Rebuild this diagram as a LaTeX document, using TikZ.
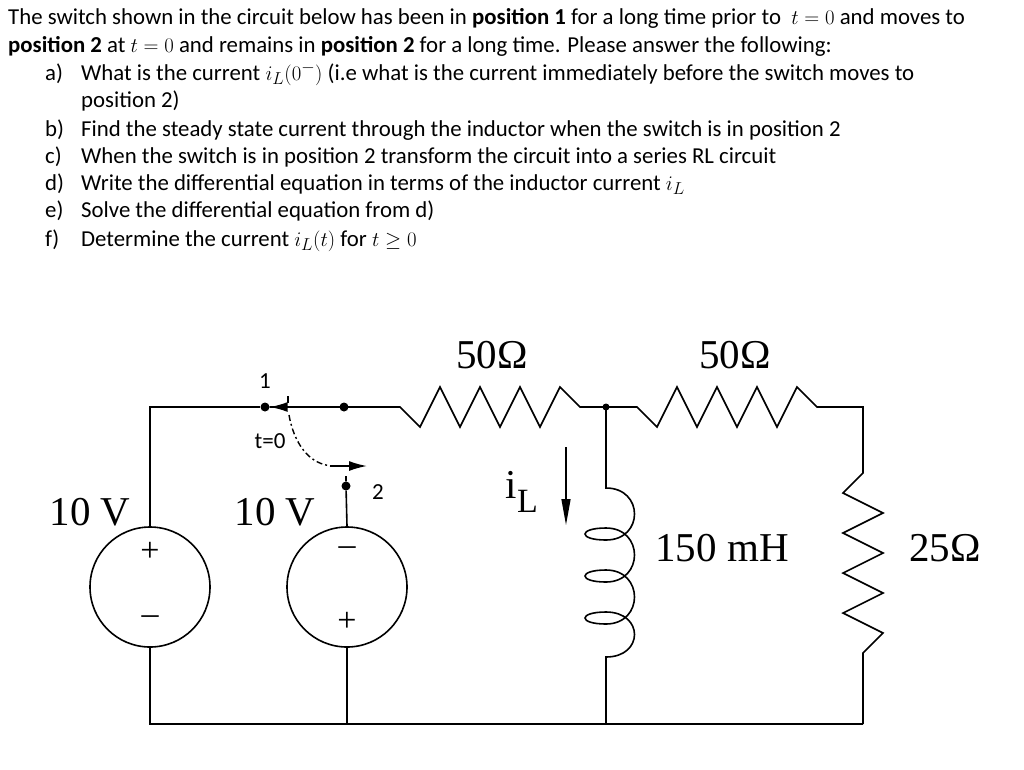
\documentclass[tikz,border=0pt]{standalone}
\usepackage{fontspec}
\setmainfont{Carlito}
\newfontfamily\tms{Liberation Serif}
\usetikzlibrary{arrows.meta}
\begin{document}
\begin{tikzpicture}[x=1pt,y=-1pt,
  wire/.style={line width=1.6pt,line join=miter},
  qtext/.style={anchor=base west,inner sep=0pt,font=\fontsize{22.8}{24}\selectfont},
  big/.style={inner sep=0pt,font=\tms\fontsize{41}{44}\selectfont},
  small/.style={inner sep=0pt,font=\fontsize{23}{24}\selectfont},
  dotn/.style={circle,fill,inner sep=0pt,minimum size=9pt}]
\useasboundingbox (0,0) rectangle (1024,769);
% text
\node[qtext] (l1) at (8,24) {The switch shown in the circuit below has been in \textbf{position 1} for a long time prior to \ $t=0$ and moves to};
\node[qtext] (l2) at (8,52) {\textbf{position 2} at $t=0$ and remains in \textbf{position 2} for a long time. Please answer the following:};
\node[qtext] (a1) at (45,80) {a)};
\node[qtext] (a2) at (81,80) {What is the current $i_L(0^-)$ (i.e what is the current immediately before the switch moves to};
\node[qtext] (a3) at (81,107) {position 2)};
\node[qtext] (b1) at (45,136) {b)};
\node[qtext] (b2) at (81,136) {Find the steady state current through the inductor when the switch is in position 2};
\node[qtext] (c1) at (45,163) {c)};
\node[qtext] (c2) at (81,163) {When the switch is in position 2 transform the circuit into a series RL circuit};
\node[qtext] (d1) at (45,190) {d)};
\node[qtext] (d2) at (81,190) {Write the differential equation in terms of the inductor current $i_L$};
\node[qtext] (e1) at (45,217) {e)};
\node[qtext] (e2) at (81,217) {Solve the differential equation from d)};
\node[qtext] (f1) at (45,246) {f)};
\node[qtext] (f2) at (81,246) {Determine the current $i_L(t)$ for $t\geq 0$};
% coordinates
\coordinate (TL) at (150,407);
\coordinate (BL) at (150,724);
\coordinate (BR) at (863,724);
\node[dotn] (s1) at (265,407) {};
\node[dotn] (s3) at (344,407) {};
\node[dotn] (s2) at (346,486) {};
\coordinate (J) at (606,407);
\node[circle,fill,inner sep=0pt,minimum size=7pt] (Jd) at (J) {};
\node[circle,draw,line width=1.6pt,minimum size=120pt,inner sep=0pt] (V1) at (150,587) {};
\node[circle,draw,line width=1.6pt,minimum size=120pt,inner sep=0pt] (V2) at (347,587) {};
% wires
\draw[wire] (V1.north) -- (TL) -- (s1);
\draw[wire] (s1) -- (400,407) -- (420,427) -- (440,387) -- (460,427) -- (480,387) -- (500,427) -- (520,387) -- (540,427) -- (560,387) -- (580,407) -- (J);
\draw[wire] (J) -- (637,407) -- (657,427) -- (677,387) -- (697,427) -- (717,387) -- (737,427) -- (757,387) -- (777,427) -- (797,387) -- (817,407) -- (863,407) -- (863,473)
  -- (843,493) -- (883,513) -- (843,533) -- (883,553) -- (843,573) -- (883,593) -- (843,613) -- (883,633) -- (863,653) -- (BR);
\draw[wire] (V1.south) -- (BL) -- (BR);
\draw[wire] (V2.south) -- (347,724);
\draw[wire] (V2.north) -- (s2) -- (346,476);
% inductor
\draw[wire] (J) -- (606,488)
  .. controls (644,488) and (644,540) .. (606,540)
  .. controls (578,540) and (578,528) .. (606,528)
  .. controls (644,528) and (644,582) .. (606,582)
  .. controls (578,582) and (578,570) .. (606,570)
  .. controls (644,570) and (644,624) .. (606,624)
  .. controls (578,624) and (578,612) .. (606,612)
  .. controls (644,612) and (644,657) .. (606,657)
  -- (606,724);
% switch
\draw[wire,-{Latex[length=18pt,width=10pt]}] (300,407) -- (s1.east);
\draw[line width=1.4pt] (288,396) -- (288,403);
\draw[line width=1.4pt,dash pattern=on 6pt off 3pt on 2pt off 3pt] (289,415) to[out=-80,in=180] (335,466);
\draw[wire,-{Latex[length=18pt,width=10pt]}] (330,466) -- (367,466);
% signs
\node[big,font=\tms\fontsize{34}{36}\selectfont] (p1) at (150,552) {+};
\node[big,font=\tms\fontsize{34}{36}\selectfont] (m1) at (150,620) {\textendash};
\node[big,font=\tms\fontsize{34}{36}\selectfont] (m2) at (347,551) {\textendash};
\node[big,font=\tms\fontsize{34}{36}\selectfont] (p2) at (347,622) {+};
% current arrow
\coordinate (ia) at (566,447);
\coordinate (ib) at (566,525);
\draw[line width=1.4pt,-{Triangle[length=26pt,width=9pt]}] (ia) -- (ib);
% labels
\node[big] (r1) at (492,355) {50Ω};
\node[big] (r2) at (735,355) {50Ω};
\node[big] (ll) at (722,548) {150 mH};
\node[big] (r3) at (945,548) {25Ω};
\node[big] (v1l) at (90,512) {10 V};
\node[big] (v2l) at (275,512) {10 V};
\node[big] (il) at (522,492) {i\textsubscript{\fontsize{34}{36}\selectfont L}};
\node[small] (n1) at (265,381) {1};
\node[small] (n2) at (378,492) {2};
\node[small] (t0) at (270,441) {t=0};
\end{tikzpicture}
\end{document}
